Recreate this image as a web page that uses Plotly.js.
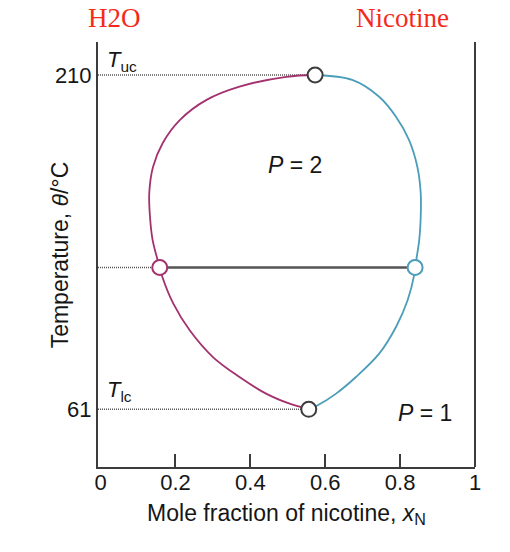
<!DOCTYPE html>
<html>
<head>
<meta charset="utf-8">
<script src="https://cdn.plot.ly/plotly-3.0.1.min.js"></script>
<style>html,body{margin:0;padding:0;background:#fff;}#chart{width:510px;height:552px;}</style>
</head>
<body>
<div id="chart"></div>
<script>
// ---- data ----
const leftBranchX = [0.573, 0.496, 0.371, 0.283, 0.2115, 0.166, 0.140, 0.130, 0.132, 0.139, 0.158, 0.165, 0.194, 0.238, 0.300, 0.371, 0.442, 0.505, 0.556];
const leftBranchT = [210, 209.2, 204.8, 198.9, 189.9, 179.7, 169.0, 157.4, 146.7, 136.4, 124.2, 120.0, 108.2, 96.2, 84.3, 75.4, 68.0, 63.5, 61];
const rightBranchX = [0.573, 0.672, 0.744, 0.789, 0.824, 0.846, 0.855, 0.855, 0.851, 0.840, 0.8375, 0.820, 0.789, 0.744, 0.682, 0.629, 0.580, 0.556];
const rightBranchT = [210, 207.8, 200.3, 191.4, 181.0, 169.1, 157.4, 146.8, 136.4, 124.2, 120.8, 109.6, 97.7, 85.8, 75.4, 68.0, 62.8, 61];
const criticalX = [0.573, 0.556];
const criticalT = [210, 61];
const criticalLabels = ['<i>T</i><sub>uc</sub>', '<i>T</i><sub>lc</sub>'];
const tieX = [0.158, 0.840];
const tieT = [124.2, 124.2];
const xTickVals = [0, 0.2, 0.4, 0.6, 0.8, 1];
const xTickText = ['0', '0.2', '0.4', '0.6', '0.8', '1'];
const xTickMarks = [0.2, 0.4, 0.6, 0.8];
const yTickVals = [61, 210];
const yTickText = ['61', '210'];
const phaseLabels = ['<i>P</i> = 2', '<i>P</i> = 1'];
const componentLabels = ['H2O', 'Nicotine'];
const xTitle = 'Mole fraction of nicotine, <i>x</i><sub>N</sub>';
const yTitle = 'Temperature, <i>θ</i>/°C';

// ---- styling ----
const xRange = [-0.0069, 1.0];
const yRange = [35.3, 224.7];
const MAG = '#a3316d';
const TEAL = '#4b9db9';
const DARK = '#3c3c3c';
const TXT = '#161616';
const FONT = '"Liberation Sans", Arial, Helvetica, sans-serif';
const SERIF = '"Liberation Serif", "Times New Roman", serif';

const traces = [
  {x: leftBranchX, y: leftBranchT, mode: 'lines', line: {color: MAG, width: 1.8, shape: 'spline', smoothing: 1}, hoverinfo: 'skip'},
  {x: rightBranchX, y: rightBranchT, mode: 'lines', line: {color: TEAL, width: 1.8, shape: 'spline', smoothing: 1}, hoverinfo: 'skip'},
  {x: tieX, y: tieT, mode: 'lines', line: {color: '#555', width: 2.4}, hoverinfo: 'skip'},
  {x: tieX, y: tieT, mode: 'markers', marker: {size: 15, color: '#fff', line: {color: [MAG, TEAL], width: 2}}, hoverinfo: 'skip'},
  {x: criticalX, y: criticalT, mode: 'markers', marker: {size: 15, color: '#fff', line: {color: DARK, width: 2}}, hoverinfo: 'skip'},
  {x: xTickVals, y: xTickVals.map(() => yRange[0]), xaxis: 'x2', mode: 'markers', marker: {opacity: 0}, hoverinfo: 'skip'}
];

const dotted = (x1, y) => ({type: 'line', xref: 'x', yref: 'y', x0: xRange[0], x1: x1, y0: y, y1: y,
  line: {color: '#555', width: 1.5, dash: '1px,1px'}, layer: 'below'});

const shapes = [
  dotted(criticalX[0], criticalT[0]),
  dotted(criticalX[1], criticalT[1]),
  dotted(tieX[0], tieT[0]),
  {type: 'line', xref: 'paper', yref: 'paper', x0: 1, x1: 1, y0: 0, y1: 1, line: {color: DARK, width: 2}}
];

const annotations = [
  {xref: 'paper', yref: 'y', x: 0.018, y: criticalT[0], xanchor: 'left', yanchor: 'bottom', yshift: -2, text: criticalLabels[0], showarrow: false, font: {family: FONT, size: 22, color: TXT}},
  {xref: 'paper', yref: 'y', x: 0.018, y: criticalT[1], xanchor: 'left', yanchor: 'bottom', yshift: 2, text: criticalLabels[1], showarrow: false, font: {family: FONT, size: 22, color: TXT}},
  {xref: 'x', yref: 'y', x: 0.52, y: 170, text: phaseLabels[0], showarrow: false, font: {family: FONT, size: 23, color: TXT}},
  {xref: 'x', yref: 'y', x: 0.866, y: 59.5, text: phaseLabels[1], showarrow: false, font: {family: FONT, size: 23, color: TXT}},
  {xref: 'paper', yref: 'paper', x: -0.032, y: 1.097, text: componentLabels[0], showarrow: false, font: {family: SERIF, size: 27, color: '#f5291b'}},
  {xref: 'paper', yref: 'paper', x: 0.936, y: 1.097, text: componentLabels[1], showarrow: false, font: {family: SERIF, size: 27, color: '#f5291b'}},
  {xref: 'paper', yref: 'paper', x: -0.141, y: 0.5, textangle: -90, text: yTitle, showarrow: false, font: {family: FONT, size: 23, color: TXT}}
];

const layout = {
  width: 510, height: 552,
  margin: {l: 98, r: 35, t: 42, b: 85},
  paper_bgcolor: '#fff', plot_bgcolor: '#fff',
  showlegend: false,
  font: {family: FONT, color: TXT},
  xaxis: {range: xRange, showgrid: false, zeroline: false, showline: true, linecolor: DARK, linewidth: 2,
    tickmode: 'array', tickvals: xTickMarks, ticks: 'inside', ticklen: 13, tickwidth: 2, tickcolor: DARK,
    showticklabels: false, fixedrange: true},
  xaxis2: {range: xRange, overlaying: 'x', anchor: 'y', side: 'bottom', showgrid: false, zeroline: false, showline: false,
    tickmode: 'array', tickvals: xTickVals, ticktext: xTickText, ticks: '', tickfont: {family: FONT, size: 22, color: TXT},
    title: {text: xTitle, font: {family: FONT, size: 23, color: TXT}, standoff: 10}},
  yaxis: {range: yRange, showgrid: false, zeroline: false, showline: true, linecolor: DARK, linewidth: 2,
    tickmode: 'array', tickvals: yTickVals, ticktext: yTickText, ticks: '', tickfont: {family: FONT, size: 22, color: TXT}},
  shapes: shapes,
  annotations: annotations
};

Plotly.newPlot('chart', traces, layout, {staticPlot: true, displayModeBar: false});
</script>
</body>
</html>
